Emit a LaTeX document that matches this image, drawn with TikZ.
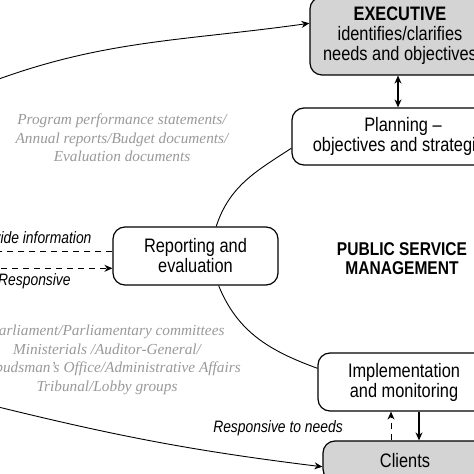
\documentclass[tikz,border=0pt]{standalone}
\usepackage{fontspec}
\setmainfont{Liberation Sans}[FakeStretch=0.84]
\newfontfamily\noteserif{Liberation Serif}
\usetikzlibrary{calc,positioning,arrows.meta}
\definecolor{boxgray}{gray}{0.83}
\definecolor{notegray}{gray}{0.6}

\begin{document}
\begin{tikzpicture}[x=1pt,y=1pt,>={Stealth[length=8pt,width=7pt]},
  blk/.style={draw,rounded corners=12pt,line width=1.2pt,align=center,inner sep=0pt,font=\fontsize{19.5}{20}\selectfont},
  shd/.style={blk,fill=boxgray},
  note/.style={align=center,text=notegray,font=\noteserif\itshape\fontsize{15.3}{18.5}\selectfont},
  lbl/.style={font=\itshape\fontsize{16.5}{18}\selectfont},
  dsh/.style={dash pattern=on 6pt off 5pt,line width=0.9pt}]
  \useasboundingbox (0,0) rectangle (474,474);
  \clip (0,0) rectangle (474,474);

  \node[shd,minimum width=180pt,minimum height=78pt] (exec) at (400,438) {\textbf{EXECUTIVE}\\identifies/clarifies\\needs and objectives};
  \node[blk,minimum width=222pt,minimum height=57pt] (planning) at (403,337.5) {Planning --\\objectives and strategies};
  \node[blk,minimum width=165pt,minimum height=58pt] (reporting) at (195.5,218) {Reporting and\\evaluation};
  \node[blk,minimum width=172pt,minimum height=58pt] (impl) at (404,92) {Implementation\\and monitoring};
  \node[shd,minimum width=164pt,minimum height=40pt] (clients) at (405,13) {Clients};

  \node[align=center,font=\bfseries\fontsize{18.5}{19.5}\selectfont] (psm) at (402,215.5) {PUBLIC SERVICE\\MANAGEMENT};
  \node[note] (docs) at (122,336) {Program performance statements/\\Annual reports/Budget documents/\\Evaluation documents};
  \node[note] (bodies) at (107,114) {Parliament/Parliamentary committees\\Ministerials /Auditor-General/\\Ombudsman’s Office/Administrative Affairs\\Tribunal/Lobby groups};
  \node[lbl,anchor=east] (provide) at (95,236) {Provide information};
  \node[lbl,anchor=west,inner sep=0pt] (responsive) at (-2,193) {Responsive};
  \node[lbl] (needs) at (278,46) {Responsive to needs};

  \coordinate (lt) at (-30,384);
  \coordinate (lb) at (-30,74);
  \coordinate (info) at (-10,222.3);
  \coordinate (resp) at (-10,205.7);

  \draw[->,line width=0.9pt] (lt) to[out=22,in=188] (exec.172);
  \draw[->,line width=0.9pt] (lb) to[out=-14,in=173] (clients.184);
  \draw[line width=0.9pt] (planning.186) to[out=213,in=72] (reporting.55);
  \draw[line width=0.9pt] (reporting.-52) to[out=-68,in=160] (impl.171);

  \draw[<->,line width=1.1pt] ([xshift=-2pt]exec.south) -- ([xshift=-5pt]planning.north);
  \draw[->,dsh] ([xshift=-14pt]clients.north) -- ([xshift=-13pt]impl.south);
  \draw[->,line width=1.1pt] ([xshift=15pt]impl.south) -- ([xshift=14pt]clients.north);

  \draw[->,dsh] (reporting.west |- info) -- (info);
  \draw[->,dsh] (resp) -- (reporting.west |- resp);
\end{tikzpicture}
\end{document}
